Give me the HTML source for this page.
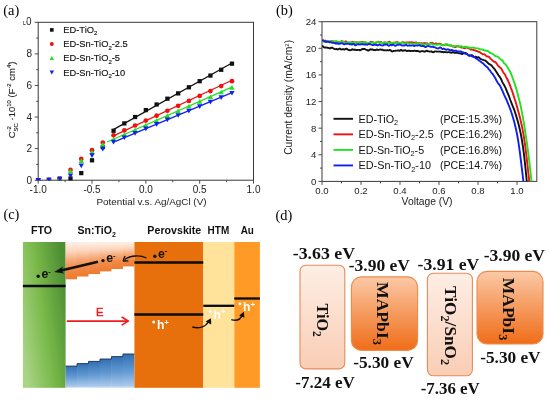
<!DOCTYPE html>
<html lang="en"><head><meta charset="utf-8"><title>Figure</title>
<style>html,body{margin:0;padding:0;background:#fff;}body{width:550px;height:400px;overflow:hidden;}svg{display:block;}</style>
</head><body>
<svg width="550" height="400" viewBox="0 0 550 400">
<defs>
<linearGradient id="gFTO" x1="0" y1="0.75" x2="1" y2="0.25"><stop offset="0" stop-color="#a8d484"/><stop offset="0.5" stop-color="#78b848"/><stop offset="1" stop-color="#4d8d34"/></linearGradient>
<linearGradient id="gTiU" x1="0" y1="0" x2="0" y2="1"><stop offset="0" stop-color="#fff1e8"/><stop offset="0.25" stop-color="#fcd6bd"/><stop offset="0.5" stop-color="#f6a876"/><stop offset="0.72" stop-color="#f18a46"/><stop offset="1" stop-color="#ee7a30"/></linearGradient>
<linearGradient id="gTiL" x1="0" y1="0" x2="0" y2="1"><stop offset="0" stop-color="#3270b4"/><stop offset="0.5" stop-color="#6299d2"/><stop offset="0.93" stop-color="#a8c8ea"/><stop offset="1" stop-color="#d0e1f4"/></linearGradient>
<linearGradient id="gBoxL" x1="0" y1="0" x2="0" y2="1"><stop offset="0" stop-color="#feeee5"/><stop offset="1" stop-color="#f9cdb4"/></linearGradient>
<linearGradient id="gBoxD" x1="0" y1="0" x2="0" y2="1"><stop offset="0" stop-color="#fbc9a6"/><stop offset="0.5" stop-color="#f59a5e"/><stop offset="1" stop-color="#ef6d18"/></linearGradient>
</defs>
<rect width="550" height="400" fill="#fff"/>
<text x="3.3" y="14.5" font-family="Liberation Serif, Times New Roman, serif" font-size="14.4" fill="#000">(a)</text>
<text x="276.0" y="15.2" font-family="Liberation Serif, Times New Roman, serif" font-size="14.4" fill="#000">(b)</text>
<text x="3.4" y="218.8" font-family="Liberation Serif, Times New Roman, serif" font-size="14.4" fill="#000">(c)</text>
<text x="275.4" y="220" font-family="Liberation Serif, Times New Roman, serif" font-size="14.4" fill="#000">(d)</text>
<rect x="38.2" y="22.3" width="215.30" height="157.90" fill="none" stroke="#3a3a3a" stroke-width="1"/>
<line x1="38.20" y1="180.2" x2="38.20" y2="183.7" stroke="#3a3a3a" stroke-width="0.9"/>
<line x1="65.11" y1="180.2" x2="65.11" y2="182.2" stroke="#3a3a3a" stroke-width="0.9"/>
<line x1="92.03" y1="180.2" x2="92.03" y2="183.7" stroke="#3a3a3a" stroke-width="0.9"/>
<line x1="118.94" y1="180.2" x2="118.94" y2="182.2" stroke="#3a3a3a" stroke-width="0.9"/>
<line x1="145.85" y1="180.2" x2="145.85" y2="183.7" stroke="#3a3a3a" stroke-width="0.9"/>
<line x1="172.76" y1="180.2" x2="172.76" y2="182.2" stroke="#3a3a3a" stroke-width="0.9"/>
<line x1="199.68" y1="180.2" x2="199.68" y2="183.7" stroke="#3a3a3a" stroke-width="0.9"/>
<line x1="226.59" y1="180.2" x2="226.59" y2="182.2" stroke="#3a3a3a" stroke-width="0.9"/>
<line x1="253.50" y1="180.2" x2="253.50" y2="183.7" stroke="#3a3a3a" stroke-width="0.9"/>
<line x1="38.2" y1="180.20" x2="34.7" y2="180.20" stroke="#3a3a3a" stroke-width="0.9"/>
<line x1="38.2" y1="164.41" x2="36.2" y2="164.41" stroke="#3a3a3a" stroke-width="0.9"/>
<line x1="38.2" y1="148.62" x2="34.7" y2="148.62" stroke="#3a3a3a" stroke-width="0.9"/>
<line x1="38.2" y1="132.83" x2="36.2" y2="132.83" stroke="#3a3a3a" stroke-width="0.9"/>
<line x1="38.2" y1="117.04" x2="34.7" y2="117.04" stroke="#3a3a3a" stroke-width="0.9"/>
<line x1="38.2" y1="101.25" x2="36.2" y2="101.25" stroke="#3a3a3a" stroke-width="0.9"/>
<line x1="38.2" y1="85.46" x2="34.7" y2="85.46" stroke="#3a3a3a" stroke-width="0.9"/>
<line x1="38.2" y1="69.67" x2="36.2" y2="69.67" stroke="#3a3a3a" stroke-width="0.9"/>
<line x1="38.2" y1="53.88" x2="34.7" y2="53.88" stroke="#3a3a3a" stroke-width="0.9"/>
<line x1="38.2" y1="38.09" x2="36.2" y2="38.09" stroke="#3a3a3a" stroke-width="0.9"/>
<line x1="38.2" y1="22.30" x2="34.7" y2="22.30" stroke="#3a3a3a" stroke-width="0.9"/>
<text x="38.20" y="193.0" text-anchor="middle" font-family="Liberation Sans, Arial, sans-serif" font-size="10" fill="#222">-1.0</text>
<text x="92.03" y="193.0" text-anchor="middle" font-family="Liberation Sans, Arial, sans-serif" font-size="10" fill="#222">-0.5</text>
<text x="145.85" y="193.0" text-anchor="middle" font-family="Liberation Sans, Arial, sans-serif" font-size="10" fill="#222">0.0</text>
<text x="199.68" y="193.0" text-anchor="middle" font-family="Liberation Sans, Arial, sans-serif" font-size="10" fill="#222">0.5</text>
<text x="253.50" y="193.0" text-anchor="middle" font-family="Liberation Sans, Arial, sans-serif" font-size="10" fill="#222">1.0</text>
<text x="32" y="183.70" text-anchor="end" font-family="Liberation Sans, Arial, sans-serif" font-size="10" fill="#222">0</text>
<text x="32" y="152.12" text-anchor="end" font-family="Liberation Sans, Arial, sans-serif" font-size="10" fill="#222">2</text>
<text x="32" y="120.54" text-anchor="end" font-family="Liberation Sans, Arial, sans-serif" font-size="10" fill="#222">4</text>
<text x="32" y="88.96" text-anchor="end" font-family="Liberation Sans, Arial, sans-serif" font-size="10" fill="#222">6</text>
<text x="32" y="57.38" text-anchor="end" font-family="Liberation Sans, Arial, sans-serif" font-size="10" fill="#222">8</text>
<clipPath id="c10"><polygon points="23.4,21 26.6,21 26.6,14 34,14 34,28 23.4,28"/></clipPath><text x="31.6" y="24.90" text-anchor="end" font-family="Liberation Sans, Arial, sans-serif" font-size="10" fill="#222" clip-path="url(#c10)">10</text>
<text x="151.5" y="205.3" text-anchor="middle" font-family="Liberation Sans, Arial, sans-serif" font-size="9.9" fill="#222" textLength="110" lengthAdjust="spacingAndGlyphs">Potential v.s. Ag/AgCl (V)</text>
<text transform="translate(14.9,99.9) rotate(-90)" text-anchor="middle" font-family="Liberation Sans, Arial, sans-serif" font-size="9.45" fill="#222" stroke="#222" stroke-width="0.12">C<tspan dy="-4.4" font-size="6">-2</tspan><tspan dy="7.3" dx="-5.4" font-size="6">SC</tspan><tspan dy="-2.9"> ·10</tspan><tspan dy="-4.4" font-size="6">10</tspan><tspan dy="4.4"> (F</tspan><tspan dy="-4.4" font-size="6">-2</tspan><tspan dy="4.4"> cm</tspan><tspan dy="-4.4" font-size="6">4</tspan><tspan dy="4.4">)</tspan></text>
<line x1="112.48" y1="130.15" x2="231.97" y2="63.04" stroke="#111" stroke-width="1.3"/>
<line x1="112.48" y1="142.62" x2="231.97" y2="92.57" stroke="#1020f0" stroke-width="1.3"/>
<line x1="107.10" y1="141.99" x2="231.97" y2="87.04" stroke="#22e022" stroke-width="1.3"/>
<line x1="112.48" y1="136.30" x2="231.97" y2="80.25" stroke="#f01010" stroke-width="1.3"/>
<clipPath id="ca"><rect x="35.2" y="22.3" width="218.30" height="158.50"/></clipPath>
<g clip-path="url(#ca)">
<rect x="36.07" y="178.07" width="4.26" height="4.26" fill="#111"/>
<rect x="46.84" y="177.76" width="4.26" height="4.26" fill="#111"/>
<rect x="57.60" y="177.28" width="4.26" height="4.26" fill="#111"/>
<rect x="68.37" y="176.34" width="4.26" height="4.26" fill="#111"/>
<rect x="79.13" y="170.97" width="4.26" height="4.26" fill="#111"/>
<rect x="89.90" y="158.18" width="4.26" height="4.26" fill="#111"/>
<rect x="100.66" y="144.91" width="4.26" height="4.26" fill="#111"/>
<rect x="111.43" y="128.65" width="4.26" height="4.26" fill="#111"/>
<rect x="122.19" y="121.29" width="4.26" height="4.26" fill="#111"/>
<rect x="132.96" y="114.87" width="4.26" height="4.26" fill="#111"/>
<rect x="143.72" y="107.98" width="4.26" height="4.26" fill="#111"/>
<rect x="154.49" y="102.35" width="4.26" height="4.26" fill="#111"/>
<rect x="165.25" y="96.57" width="4.26" height="4.26" fill="#111"/>
<rect x="176.02" y="91.26" width="4.26" height="4.26" fill="#111"/>
<rect x="186.78" y="85.16" width="4.26" height="4.26" fill="#111"/>
<rect x="197.55" y="79.05" width="4.26" height="4.26" fill="#111"/>
<rect x="208.31" y="73.43" width="4.26" height="4.26" fill="#111"/>
<rect x="219.08" y="67.64" width="4.26" height="4.26" fill="#111"/>
<rect x="229.84" y="61.54" width="4.26" height="4.26" fill="#111"/>
<circle cx="38.20" cy="180.20" r="2.35" fill="#f01010"/>
<circle cx="48.97" cy="179.73" r="2.35" fill="#f01010"/>
<circle cx="59.73" cy="178.31" r="2.35" fill="#f01010"/>
<circle cx="70.50" cy="169.94" r="2.35" fill="#f01010"/>
<circle cx="81.26" cy="158.88" r="2.35" fill="#f01010"/>
<circle cx="92.03" cy="150.20" r="2.35" fill="#f01010"/>
<circle cx="102.79" cy="142.62" r="2.35" fill="#f01010"/>
<circle cx="113.56" cy="135.36" r="2.35" fill="#f01010"/>
<circle cx="124.32" cy="130.43" r="2.35" fill="#f01010"/>
<circle cx="135.09" cy="125.51" r="2.35" fill="#f01010"/>
<circle cx="145.85" cy="120.59" r="2.35" fill="#f01010"/>
<circle cx="156.62" cy="115.66" r="2.35" fill="#f01010"/>
<circle cx="167.38" cy="110.74" r="2.35" fill="#f01010"/>
<circle cx="178.15" cy="105.81" r="2.35" fill="#f01010"/>
<circle cx="188.91" cy="100.89" r="2.35" fill="#f01010"/>
<circle cx="199.68" cy="95.97" r="2.35" fill="#f01010"/>
<circle cx="210.44" cy="91.04" r="2.35" fill="#f01010"/>
<circle cx="221.20" cy="86.12" r="2.35" fill="#f01010"/>
<circle cx="231.97" cy="81.20" r="2.35" fill="#f01010"/>
<path d="M35.51,182.33 L40.89,182.33 L38.20,177.62 Z" fill="#22e022"/>
<path d="M46.28,181.85 L51.65,181.85 L48.97,177.15 Z" fill="#22e022"/>
<path d="M57.04,180.59 L62.42,180.59 L59.73,175.89 Z" fill="#22e022"/>
<path d="M67.81,173.33 L73.18,173.33 L70.50,168.62 Z" fill="#22e022"/>
<path d="M78.57,163.06 L83.95,163.06 L81.26,158.36 Z" fill="#22e022"/>
<path d="M89.34,154.22 L94.71,154.22 L92.03,149.52 Z" fill="#22e022"/>
<path d="M100.10,146.80 L105.48,146.80 L102.79,142.10 Z" fill="#22e022"/>
<path d="M110.87,141.59 L116.24,141.59 L113.56,136.89 Z" fill="#22e022"/>
<path d="M121.63,136.87 L127.01,136.87 L124.32,132.16 Z" fill="#22e022"/>
<path d="M132.40,132.14 L137.77,132.14 L135.09,127.44 Z" fill="#22e022"/>
<path d="M143.16,127.42 L148.54,127.42 L145.85,122.72 Z" fill="#22e022"/>
<path d="M153.93,122.70 L159.30,122.70 L156.62,118.00 Z" fill="#22e022"/>
<path d="M164.69,117.98 L170.07,117.98 L167.38,113.27 Z" fill="#22e022"/>
<path d="M175.46,113.25 L180.83,113.25 L178.15,108.55 Z" fill="#22e022"/>
<path d="M186.22,108.53 L191.60,108.53 L188.91,103.83 Z" fill="#22e022"/>
<path d="M196.99,103.81 L202.36,103.81 L199.68,99.10 Z" fill="#22e022"/>
<path d="M207.75,99.09 L213.13,99.09 L210.44,94.38 Z" fill="#22e022"/>
<path d="M218.52,94.36 L223.89,94.36 L221.20,89.66 Z" fill="#22e022"/>
<path d="M229.28,89.64 L234.66,89.64 L231.97,84.94 Z" fill="#22e022"/>
<path d="M35.51,178.07 L40.89,178.07 L38.20,182.78 Z" fill="#1020f0"/>
<path d="M46.28,177.76 L51.65,177.76 L48.97,182.46 Z" fill="#1020f0"/>
<path d="M57.04,176.81 L62.42,176.81 L59.73,181.51 Z" fill="#1020f0"/>
<path d="M67.81,173.49 L73.18,173.49 L70.50,178.20 Z" fill="#1020f0"/>
<path d="M78.57,163.55 L83.95,163.55 L81.26,168.25 Z" fill="#1020f0"/>
<path d="M89.34,153.28 L94.71,153.28 L92.03,157.99 Z" fill="#1020f0"/>
<path d="M100.10,146.81 L105.48,146.81 L102.79,151.51 Z" fill="#1020f0"/>
<path d="M110.87,139.86 L116.24,139.86 L113.56,144.56 Z" fill="#1020f0"/>
<path d="M121.63,135.41 L127.01,135.41 L124.32,140.11 Z" fill="#1020f0"/>
<path d="M132.40,130.96 L137.77,130.96 L135.09,135.66 Z" fill="#1020f0"/>
<path d="M143.16,126.51 L148.54,126.51 L145.85,131.21 Z" fill="#1020f0"/>
<path d="M153.93,122.06 L159.30,122.06 L156.62,126.76 Z" fill="#1020f0"/>
<path d="M164.69,117.61 L170.07,117.61 L167.38,122.31 Z" fill="#1020f0"/>
<path d="M175.46,113.16 L180.83,113.16 L178.15,117.86 Z" fill="#1020f0"/>
<path d="M186.22,108.71 L191.60,108.71 L188.91,113.41 Z" fill="#1020f0"/>
<path d="M196.99,104.26 L202.36,104.26 L199.68,108.96 Z" fill="#1020f0"/>
<path d="M207.75,99.81 L213.13,99.81 L210.44,104.52 Z" fill="#1020f0"/>
<path d="M218.52,95.36 L223.89,95.36 L221.20,100.07 Z" fill="#1020f0"/>
<path d="M229.28,90.91 L234.66,90.91 L231.97,95.62 Z" fill="#1020f0"/>
</g>
<rect x="49.99" y="28.09" width="3.61" height="3.61" fill="#111"/>
<text x="63.3" y="33.20" font-family="Liberation Sans, Arial, sans-serif" font-size="9.3" fill="#111" stroke="#111" stroke-width="0.15">ED-TiO<tspan dy="2.2" font-size="6">2</tspan></text>
<circle cx="51.80" cy="44.00" r="1.99" fill="#f01010"/>
<text x="63.3" y="47.30" font-family="Liberation Sans, Arial, sans-serif" font-size="9.3" fill="#111" stroke="#111" stroke-width="0.15">ED-Sn-TiO<tspan dy="2.2" font-size="6">2</tspan><tspan dy="-2.2">-2.5</tspan></text>
<path d="M49.52,59.90 L54.08,59.90 L51.80,55.91 Z" fill="#22e022"/>
<text x="63.3" y="61.40" font-family="Liberation Sans, Arial, sans-serif" font-size="9.3" fill="#111" stroke="#111" stroke-width="0.15">ED-Sn-TiO<tspan dy="2.2" font-size="6">2</tspan><tspan dy="-2.2">-5</tspan></text>
<path d="M49.52,70.39 L54.08,70.39 L51.80,74.38 Z" fill="#1020f0"/>
<text x="63.3" y="75.50" font-family="Liberation Sans, Arial, sans-serif" font-size="9.3" fill="#111" stroke="#111" stroke-width="0.15">ED-Sn-TiO<tspan dy="2.2" font-size="6">2</tspan><tspan dy="-2.2">-10</tspan></text>
<rect x="322.0" y="21.7" width="214.80" height="159.70" fill="none" stroke="#3a3a3a" stroke-width="1"/>
<line x1="322.00" y1="181.4" x2="322.00" y2="184.9" stroke="#3a3a3a" stroke-width="0.9"/>
<line x1="341.50" y1="181.4" x2="341.50" y2="183.4" stroke="#3a3a3a" stroke-width="0.9"/>
<line x1="361.00" y1="181.4" x2="361.00" y2="184.9" stroke="#3a3a3a" stroke-width="0.9"/>
<line x1="380.50" y1="181.4" x2="380.50" y2="183.4" stroke="#3a3a3a" stroke-width="0.9"/>
<line x1="400.00" y1="181.4" x2="400.00" y2="184.9" stroke="#3a3a3a" stroke-width="0.9"/>
<line x1="419.50" y1="181.4" x2="419.50" y2="183.4" stroke="#3a3a3a" stroke-width="0.9"/>
<line x1="439.00" y1="181.4" x2="439.00" y2="184.9" stroke="#3a3a3a" stroke-width="0.9"/>
<line x1="458.50" y1="181.4" x2="458.50" y2="183.4" stroke="#3a3a3a" stroke-width="0.9"/>
<line x1="478.00" y1="181.4" x2="478.00" y2="184.9" stroke="#3a3a3a" stroke-width="0.9"/>
<line x1="497.50" y1="181.4" x2="497.50" y2="183.4" stroke="#3a3a3a" stroke-width="0.9"/>
<line x1="517.00" y1="181.4" x2="517.00" y2="184.9" stroke="#3a3a3a" stroke-width="0.9"/>
<line x1="322.0" y1="181.40" x2="318.5" y2="181.40" stroke="#3a3a3a" stroke-width="0.9"/>
<line x1="322.0" y1="168.09" x2="320.0" y2="168.09" stroke="#3a3a3a" stroke-width="0.9"/>
<line x1="322.0" y1="154.78" x2="318.5" y2="154.78" stroke="#3a3a3a" stroke-width="0.9"/>
<line x1="322.0" y1="141.47" x2="320.0" y2="141.47" stroke="#3a3a3a" stroke-width="0.9"/>
<line x1="322.0" y1="128.17" x2="318.5" y2="128.17" stroke="#3a3a3a" stroke-width="0.9"/>
<line x1="322.0" y1="114.86" x2="320.0" y2="114.86" stroke="#3a3a3a" stroke-width="0.9"/>
<line x1="322.0" y1="101.55" x2="318.5" y2="101.55" stroke="#3a3a3a" stroke-width="0.9"/>
<line x1="322.0" y1="88.24" x2="320.0" y2="88.24" stroke="#3a3a3a" stroke-width="0.9"/>
<line x1="322.0" y1="74.93" x2="318.5" y2="74.93" stroke="#3a3a3a" stroke-width="0.9"/>
<line x1="322.0" y1="61.62" x2="320.0" y2="61.62" stroke="#3a3a3a" stroke-width="0.9"/>
<line x1="322.0" y1="48.32" x2="318.5" y2="48.32" stroke="#3a3a3a" stroke-width="0.9"/>
<line x1="322.0" y1="35.01" x2="320.0" y2="35.01" stroke="#3a3a3a" stroke-width="0.9"/>
<line x1="322.0" y1="21.70" x2="318.5" y2="21.70" stroke="#3a3a3a" stroke-width="0.9"/>
<text x="322.00" y="194.4" text-anchor="middle" font-family="Liberation Sans, Arial, sans-serif" font-size="9.6" fill="#222">0.0</text>
<text x="361.00" y="194.4" text-anchor="middle" font-family="Liberation Sans, Arial, sans-serif" font-size="9.6" fill="#222">0.2</text>
<text x="400.00" y="194.4" text-anchor="middle" font-family="Liberation Sans, Arial, sans-serif" font-size="9.6" fill="#222">0.4</text>
<text x="439.00" y="194.4" text-anchor="middle" font-family="Liberation Sans, Arial, sans-serif" font-size="9.6" fill="#222">0.6</text>
<text x="478.00" y="194.4" text-anchor="middle" font-family="Liberation Sans, Arial, sans-serif" font-size="9.6" fill="#222">0.8</text>
<text x="517.00" y="194.4" text-anchor="middle" font-family="Liberation Sans, Arial, sans-serif" font-size="9.6" fill="#222">1.0</text>
<text x="316.3" y="184.80" text-anchor="end" font-family="Liberation Sans, Arial, sans-serif" font-size="9.6" fill="#222">0</text>
<text x="316.3" y="158.18" text-anchor="end" font-family="Liberation Sans, Arial, sans-serif" font-size="9.6" fill="#222">4</text>
<text x="316.3" y="131.57" text-anchor="end" font-family="Liberation Sans, Arial, sans-serif" font-size="9.6" fill="#222">8</text>
<text x="316.3" y="104.95" text-anchor="end" font-family="Liberation Sans, Arial, sans-serif" font-size="9.6" fill="#222">12</text>
<text x="316.3" y="78.33" text-anchor="end" font-family="Liberation Sans, Arial, sans-serif" font-size="9.6" fill="#222">16</text>
<text x="316.3" y="51.72" text-anchor="end" font-family="Liberation Sans, Arial, sans-serif" font-size="9.6" fill="#222">20</text>
<text x="316.3" y="25.10" text-anchor="end" font-family="Liberation Sans, Arial, sans-serif" font-size="9.6" fill="#222">24</text>
<text x="427.1" y="205" text-anchor="middle" font-family="Liberation Sans, Arial, sans-serif" font-size="10.3" fill="#222">Voltage (V)</text>
<text transform="translate(292.3,97.4) rotate(-90)" text-anchor="middle" font-family="Liberation Sans, Arial, sans-serif" font-size="10.3" fill="#222">Current density (mA/cm<tspan dy="-3.4" font-size="6">2</tspan><tspan dy="3.4">)</tspan></text>
<clipPath id="cb"><rect x="322.0" y="21.7" width="214.80" height="159.70"/></clipPath>
<polyline points="322.00,46.01 322.80,46.30 323.60,47.02 324.39,47.57 325.19,47.56 325.99,47.46 326.79,47.62 327.59,47.80 328.38,47.91 329.18,48.22 329.98,48.34 330.78,47.93 331.58,47.60 332.37,47.72 333.17,48.27 333.97,48.77 334.77,49.13 335.57,49.15 336.36,48.93 337.16,49.25 337.96,49.49 338.76,49.00 339.56,48.57 340.35,48.92 341.15,49.47 341.95,49.39 342.75,49.09 343.55,49.25 344.35,49.49 345.14,49.30 345.94,48.77 346.74,48.76 347.54,49.46 348.34,49.81 349.13,50.03 349.93,50.33 350.73,50.16 351.53,49.66 352.33,49.24 353.12,49.53 353.92,49.84 354.72,49.55 355.52,49.74 356.32,50.15 357.11,50.02 357.91,49.91 358.71,49.87 359.51,50.00 360.31,50.27 361.10,49.84 361.90,49.21 362.70,49.04 363.50,49.01 364.30,48.93 365.09,49.23 365.89,49.68 366.69,49.91 367.49,50.26 368.29,50.51 369.08,50.29 369.88,49.58 370.68,49.30 371.48,49.44 372.28,49.47 373.07,49.80 373.87,49.94 374.67,50.02 375.47,50.18 376.27,49.71 377.06,49.50 377.86,49.90 378.66,49.94 379.46,49.70 380.26,49.50 381.05,49.59 381.85,49.75 382.65,49.81 383.45,50.20 384.25,50.35 385.04,50.20 385.84,50.39 386.64,50.29 387.44,50.17 388.24,50.42 389.04,50.21 389.83,49.96 390.63,50.31 391.43,51.07 392.23,51.54 393.03,51.22 393.82,50.83 394.62,50.83 395.42,50.77 396.22,50.60 397.02,50.64 397.81,50.54 398.61,50.48 399.41,50.76 400.21,50.48 401.01,49.87 401.80,50.23 402.60,50.91 403.40,50.79 404.20,50.34 405.00,50.22 405.79,50.57 406.59,50.99 407.39,50.96 408.19,50.65 408.99,50.69 409.78,50.97 410.58,51.05 411.38,50.92 412.18,50.85 412.98,50.95 413.77,50.78 414.57,50.58 415.37,50.85 416.17,51.00 416.97,50.88 417.76,51.02 418.56,51.19 419.36,51.55 420.16,51.76 420.96,51.33 421.75,51.10 422.55,51.17 423.35,51.28 424.15,51.54 424.95,51.65 425.74,51.20 426.54,50.69 427.34,50.93 428.14,51.36 428.94,51.41 429.73,51.59 430.53,51.57 431.33,51.40 432.13,51.82 432.93,52.29 433.73,52.11 434.52,51.72 435.32,51.42 436.12,51.40 436.92,51.64 437.72,51.58 438.51,51.57 439.31,51.67 440.11,51.55 440.91,51.74 441.71,51.95 442.50,51.95 443.30,52.20 444.10,52.20 444.90,52.01 445.70,52.10 446.49,52.32 447.29,52.35 448.09,52.15 448.89,52.14 449.69,52.43 450.48,52.53 451.28,52.71 452.08,52.53 452.88,51.96 453.68,52.45 454.47,52.91 455.27,52.68 456.07,52.84 456.87,52.76 457.67,52.69 458.46,53.10 459.26,53.35 460.06,53.35 460.86,53.54 461.66,53.94 462.45,53.97 463.25,53.50 464.05,53.15 464.85,53.05 465.65,53.07 466.44,53.56 467.24,54.19 468.04,54.73 468.84,55.28 469.64,55.48 470.43,55.37 471.23,55.18 472.03,55.31 472.83,55.89 473.63,56.50 474.43,56.87 475.22,56.82 476.02,56.77 476.82,57.15 477.62,57.40 478.42,57.19 479.21,57.54 480.01,58.45 480.81,59.09 481.61,59.39 482.41,59.63 483.20,59.95 484.00,60.22 484.80,60.43 485.60,60.73 486.40,61.42 487.19,62.30 487.99,63.03 488.79,63.81 489.59,64.25 490.39,64.56 491.18,65.23 491.98,65.97 492.78,67.03 493.58,67.97 494.38,68.79 495.17,69.98 495.97,71.23 496.77,72.55 497.57,73.85 498.37,75.09 499.16,76.15 499.96,77.19 500.76,78.48 501.56,80.17 502.36,82.11 503.15,83.45 503.95,84.71 504.75,86.34 505.55,87.95 506.35,89.85 507.14,91.94 507.94,93.69 508.74,95.49 509.54,97.75 510.34,99.99 511.13,102.01 511.93,104.06 512.73,106.17 513.53,108.09 514.33,110.06 515.12,112.49 515.92,115.10 516.72,117.67 517.52,120.41 518.32,123.37 519.12,126.50 519.91,129.93 520.71,133.63 521.51,137.77 522.31,142.49 523.11,147.87 523.90,153.98 524.70,160.94 525.50,168.49 526.30,176.43 527.10,184.64 527.89,191.34 528.69,196.33" fill="none" stroke="#111" stroke-width="1.9" stroke-linejoin="round" clip-path="url(#cb)"/>
<polyline points="322.00,40.60 322.81,40.48 323.62,40.64 324.42,40.69 325.23,40.57 326.04,40.81 326.85,41.28 327.65,41.25 328.46,41.38 329.27,41.60 330.08,41.49 330.88,41.43 331.69,41.20 332.50,41.19 333.31,41.45 334.11,41.53 334.92,41.84 335.73,42.30 336.54,42.27 337.34,42.09 338.15,42.00 338.96,41.88 339.77,41.97 340.57,41.92 341.38,41.28 342.19,41.13 343.00,41.80 343.80,42.09 344.61,41.84 345.42,41.42 346.23,41.56 347.04,42.32 347.84,42.69 348.65,42.75 349.46,42.92 350.27,42.80 351.07,42.52 351.88,42.28 352.69,41.81 353.50,41.89 354.30,42.57 355.11,42.80 355.92,42.38 356.73,42.06 357.53,42.54 358.34,42.86 359.15,42.47 359.96,42.29 360.76,42.20 361.57,41.88 362.38,41.93 363.19,42.28 363.99,42.52 364.80,42.50 365.61,42.74 366.42,43.01 367.22,42.88 368.03,42.86 368.84,42.87 369.65,42.52 370.45,41.95 371.26,41.86 372.07,41.94 372.88,42.19 373.69,43.00 374.49,43.33 375.30,42.71 376.11,42.18 376.92,42.14 377.72,42.03 378.53,42.25 379.34,42.69 380.15,42.28 380.95,41.89 381.76,42.62 382.57,43.17 383.38,42.89 384.18,42.56 384.99,42.53 385.80,42.65 386.61,42.90 387.41,42.99 388.22,42.31 389.03,41.67 389.84,42.08 390.64,42.69 391.45,43.06 392.26,43.29 393.07,42.86 393.87,42.62 394.68,42.76 395.49,42.53 396.30,42.27 397.11,42.19 397.91,42.30 398.72,42.72 399.53,43.25 400.34,43.24 401.14,42.81 401.95,42.53 402.76,42.28 403.57,42.24 404.37,42.63 405.18,42.73 405.99,42.57 406.80,42.54 407.60,42.56 408.41,42.48 409.22,42.31 410.03,42.33 410.83,42.34 411.64,42.24 412.45,42.40 413.26,42.76 414.06,42.77 414.87,42.68 415.68,42.50 416.49,42.47 417.29,43.07 418.10,43.45 418.91,43.22 419.72,43.14 420.52,43.33 421.33,43.30 422.14,43.43 422.95,43.52 423.76,43.19 424.56,43.05 425.37,43.27 426.18,43.36 426.99,43.29 427.79,43.71 428.60,44.18 429.41,43.85 430.22,43.27 431.02,42.82 431.83,42.65 432.64,43.08 433.45,43.69 434.25,44.01 435.06,43.83 435.87,43.47 436.68,43.62 437.48,44.11 438.29,44.09 439.10,43.68 439.91,43.61 440.71,44.14 441.52,44.74 442.33,44.95 443.14,45.01 443.94,44.93 444.75,44.59 445.56,44.45 446.37,44.55 447.18,44.82 447.98,45.22 448.79,45.44 449.60,45.59 450.41,45.51 451.21,45.39 452.02,45.98 452.83,46.59 453.64,46.57 454.44,46.71 455.25,47.02 456.06,46.79 456.87,46.17 457.67,46.14 458.48,46.58 459.29,46.56 460.10,46.76 460.90,47.39 461.71,47.54 462.52,47.47 463.33,47.81 464.13,48.27 464.94,48.10 465.75,47.63 466.56,47.45 467.36,47.75 468.17,48.18 468.98,48.23 469.79,48.77 470.59,49.46 471.40,49.53 472.21,49.65 473.02,49.89 473.83,50.01 474.63,50.11 475.44,50.56 476.25,50.95 477.06,51.05 477.86,51.47 478.67,51.83 479.48,51.98 480.29,52.59 481.09,53.24 481.90,53.74 482.71,54.25 483.52,54.16 484.32,54.14 485.13,54.93 485.94,55.71 486.75,56.33 487.55,56.54 488.36,56.46 489.17,57.11 489.98,58.13 490.78,58.88 491.59,59.64 492.40,60.40 493.21,61.08 494.01,61.60 494.82,61.91 495.63,62.42 496.44,63.31 497.25,64.52 498.05,65.63 498.86,66.45 499.67,67.20 500.48,67.86 501.28,68.73 502.09,69.99 502.90,71.64 503.71,73.06 504.51,73.85 505.32,75.19 506.13,77.12 506.94,78.50 507.74,80.01 508.55,81.88 509.36,83.66 510.17,85.93 510.97,88.19 511.78,90.12 512.59,92.48 513.40,94.97 514.20,97.45 515.01,99.98 515.82,102.43 516.63,105.20 517.43,108.13 518.24,111.07 519.05,114.09 519.86,117.32 520.66,120.75 521.47,124.31 522.28,128.17 523.09,132.33 523.90,137.00 524.70,142.32 525.51,148.30 526.32,154.85 527.13,161.93 527.93,169.27 528.74,176.68 529.55,184.12 530.36,190.11 531.16,194.58" fill="none" stroke="#f01010" stroke-width="1.9" stroke-linejoin="round" clip-path="url(#cb)"/>
<polyline points="322.00,41.27 322.82,41.45 323.63,41.49 324.45,41.51 325.27,42.01 326.08,42.10 326.90,41.34 327.71,40.81 328.53,41.27 329.35,41.75 330.16,41.50 330.98,41.23 331.80,41.37 332.61,41.82 333.43,42.03 334.24,41.80 335.06,41.42 335.88,40.97 336.69,41.10 337.51,41.86 338.33,42.18 339.14,42.06 339.96,41.96 340.77,41.79 341.59,41.74 342.41,41.67 343.22,41.62 344.04,42.07 344.86,42.66 345.67,42.88 346.49,42.82 347.30,42.89 348.12,42.79 348.94,42.24 349.75,42.11 350.57,42.45 351.39,42.81 352.20,43.00 353.02,42.51 353.83,42.21 354.65,42.68 355.47,42.51 356.28,42.08 357.10,42.26 357.92,42.34 358.73,42.38 359.55,42.55 360.36,42.22 361.18,42.10 362.00,42.69 362.81,42.87 363.63,42.44 364.45,42.01 365.26,41.89 366.08,42.25 366.89,42.84 367.71,42.99 368.53,42.65 369.34,42.64 370.16,42.91 370.98,42.76 371.79,42.42 372.61,42.49 373.42,42.78 374.24,42.89 375.06,43.09 375.87,43.09 376.69,42.65 377.51,41.87 378.32,41.56 379.14,42.19 379.95,42.52 380.77,42.70 381.59,43.03 382.40,43.06 383.22,42.93 384.04,42.42 384.85,42.20 385.67,42.72 386.48,42.90 387.30,42.58 388.12,42.67 388.93,42.87 389.75,43.11 390.57,43.42 391.38,43.06 392.20,42.68 393.01,42.84 393.83,43.18 394.65,43.31 395.46,43.08 396.28,43.02 397.10,43.25 397.91,43.25 398.73,42.87 399.54,42.69 400.36,42.83 401.18,42.76 401.99,42.54 402.81,42.62 403.63,43.07 404.44,43.46 405.26,43.54 406.07,43.38 406.89,43.12 407.71,43.15 408.52,43.44 409.34,43.67 410.16,43.61 410.97,43.37 411.79,43.44 412.60,43.65 413.42,43.83 414.24,43.95 415.05,43.67 415.87,43.24 416.69,43.39 417.50,43.90 418.32,44.19 419.13,44.06 419.95,43.52 420.77,43.51 421.58,44.23 422.40,44.46 423.22,44.26 424.03,44.47 424.85,44.63 425.66,44.21 426.48,44.13 427.30,44.48 428.11,44.22 428.93,43.76 429.75,43.89 430.56,43.94 431.38,43.64 432.19,44.00 433.01,44.45 433.83,44.47 434.64,44.58 435.46,44.66 436.28,44.74 437.09,44.70 437.91,44.59 438.72,44.39 439.54,44.34 440.36,44.60 441.17,44.66 441.99,44.89 442.81,45.32 443.62,45.14 444.44,44.84 445.25,44.82 446.07,44.34 446.89,44.03 447.70,44.63 448.52,45.12 449.34,45.06 450.15,45.33 450.97,45.70 451.78,45.54 452.60,46.00 453.42,46.72 454.23,46.53 455.05,46.09 455.87,45.95 456.68,45.91 457.50,45.89 458.31,46.09 459.13,46.61 459.95,46.91 460.76,46.43 461.58,46.17 462.40,46.82 463.21,47.47 464.03,47.16 464.85,46.60 465.66,46.93 466.48,47.40 467.29,47.33 468.11,47.19 468.93,47.50 469.74,47.97 470.56,48.11 471.38,47.74 472.19,47.49 473.01,47.64 473.82,47.74 474.64,47.94 475.46,48.19 476.27,48.36 477.09,48.40 477.91,48.36 478.72,48.70 479.54,49.17 480.35,49.32 481.17,49.38 481.99,49.48 482.80,49.65 483.62,50.11 484.44,50.58 485.25,50.40 486.07,50.49 486.88,50.99 487.70,51.01 488.52,51.38 489.33,52.33 490.15,52.85 490.97,52.95 491.78,53.51 492.60,53.98 493.41,54.31 494.23,55.11 495.05,55.86 495.86,56.27 496.68,56.41 497.50,56.63 498.31,57.15 499.13,57.90 499.94,58.69 500.76,59.45 501.58,59.94 502.39,60.30 503.21,61.57 504.03,63.21 504.84,63.80 505.66,64.35 506.47,65.82 507.29,67.10 508.11,68.32 508.92,69.81 509.74,70.95 510.56,72.54 511.37,74.67 512.19,76.69 513.00,79.04 513.82,81.41 514.64,83.58 515.45,86.13 516.27,88.88 517.09,91.75 517.90,94.96 518.72,98.19 519.53,101.34 520.35,104.64 521.17,108.36 521.98,112.59 522.80,117.10 523.62,121.70 524.43,126.61 525.25,131.80 526.06,137.16 526.88,142.82 527.70,148.81 528.51,155.18 529.33,161.96 530.15,169.08 530.96,176.42 531.78,183.93 532.59,190.00 533.41,194.53" fill="none" stroke="#22e022" stroke-width="1.9" stroke-linejoin="round" clip-path="url(#cb)"/>
<polyline points="322.00,40.73 322.79,40.37 323.57,40.73 324.36,41.30 325.14,41.54 325.93,41.70 326.71,41.75 327.50,41.75 328.28,41.81 329.07,42.00 329.85,42.29 330.64,42.25 331.42,42.36 332.21,42.80 332.99,42.81 333.78,42.78 334.56,43.06 335.35,43.49 336.13,43.56 336.92,43.25 337.70,43.54 338.49,43.73 339.27,43.64 340.06,43.74 340.84,43.41 341.63,43.17 342.41,43.37 343.20,43.78 343.98,44.36 344.77,44.26 345.55,43.69 346.34,43.82 347.12,43.85 347.91,43.60 348.69,43.93 349.48,44.18 350.26,44.14 351.05,44.28 351.83,44.50 352.62,44.25 353.40,43.74 354.19,44.21 354.97,45.28 355.76,45.23 356.54,44.48 357.33,44.34 358.11,44.30 358.90,44.37 359.68,44.58 360.47,44.30 361.25,44.14 362.04,44.24 362.82,44.20 363.61,44.26 364.39,44.57 365.18,44.64 365.96,44.41 366.75,44.63 367.53,44.78 368.32,44.25 369.10,43.89 369.89,44.06 370.67,44.42 371.46,44.67 372.24,44.95 373.03,45.10 373.81,44.88 374.60,44.83 375.38,44.71 376.17,44.62 376.95,45.17 377.74,45.44 378.52,45.00 379.31,44.63 380.09,44.83 380.88,45.18 381.66,45.35 382.45,45.49 383.23,45.30 384.02,44.76 384.80,44.49 385.59,44.70 386.37,44.67 387.16,44.50 387.94,45.25 388.73,45.84 389.51,45.42 390.30,44.95 391.08,44.98 391.87,45.19 392.65,44.82 393.44,44.64 394.22,45.23 395.01,45.74 395.79,45.74 396.58,45.22 397.36,44.77 398.15,44.71 398.93,44.63 399.72,44.66 400.50,44.85 401.29,45.10 402.07,45.54 402.86,45.64 403.64,45.48 404.43,45.46 405.21,45.10 406.00,44.82 406.78,45.18 407.57,45.69 408.35,45.57 409.14,45.29 409.92,45.51 410.71,45.65 411.49,45.60 412.28,45.43 413.06,45.34 413.85,45.83 414.63,45.94 415.42,45.43 416.20,45.33 416.99,45.52 417.77,45.59 418.56,45.43 419.34,45.20 420.13,45.40 420.91,45.94 421.70,46.15 422.48,46.03 423.27,45.98 424.05,46.16 424.84,46.80 425.62,47.13 426.41,46.57 427.19,46.15 427.98,46.08 428.76,46.00 429.55,46.36 430.33,46.73 431.12,46.76 431.90,46.77 432.69,46.78 433.47,46.95 434.26,47.17 435.04,47.34 435.83,47.77 436.61,48.13 437.40,48.36 438.18,48.53 438.97,48.09 439.75,47.49 440.54,47.47 441.32,48.10 442.11,48.93 442.89,48.96 443.68,48.67 444.46,48.93 445.25,49.36 446.03,49.77 446.82,49.60 447.60,49.24 448.39,49.43 449.17,49.86 449.96,50.31 450.74,50.31 451.53,49.99 452.31,50.11 453.10,50.48 453.88,50.78 454.67,50.93 455.45,50.64 456.24,50.74 457.02,51.35 457.81,51.42 458.59,51.43 459.38,51.58 460.16,51.30 460.95,51.53 461.73,52.18 462.52,52.20 463.30,52.48 464.09,53.22 464.87,53.48 465.66,53.72 466.44,54.00 467.23,54.21 468.01,54.87 468.80,55.64 469.58,55.91 470.37,55.73 471.15,55.77 471.94,56.24 472.72,56.72 473.51,56.88 474.29,56.97 475.08,57.60 475.86,58.46 476.65,58.75 477.43,58.98 478.22,59.77 479.00,60.45 479.79,61.02 480.57,61.55 481.36,62.18 482.14,62.88 482.93,63.18 483.71,63.99 484.50,64.97 485.28,65.66 486.07,66.45 486.85,66.89 487.64,67.58 488.42,68.81 489.21,69.73 489.99,70.58 490.78,71.78 491.56,72.83 492.35,73.60 493.13,74.63 493.92,76.06 494.70,77.21 495.49,78.51 496.27,80.19 497.06,81.54 497.85,82.93 498.63,84.02 499.42,84.78 500.20,86.07 500.99,87.68 501.77,89.40 502.56,91.16 503.34,92.98 504.13,94.80 504.91,96.49 505.70,98.09 506.48,99.77 507.27,101.66 508.05,103.54 508.84,105.42 509.62,107.48 510.41,109.59 511.19,111.76 511.98,114.20 512.76,116.81 513.55,119.49 514.33,122.36 515.12,125.50 515.90,128.89 516.69,132.50 517.47,136.51 518.26,141.11 519.04,146.30 519.83,152.00 520.61,158.18 521.40,164.64 522.18,171.16 522.97,177.67 523.75,184.20 524.54,189.43 525.32,193.34" fill="none" stroke="#1020f0" stroke-width="1.9" stroke-linejoin="round" clip-path="url(#cb)"/>
<line x1="333.5" y1="118.80" x2="353" y2="118.80" stroke="#111" stroke-width="1.9"/>
<text x="358.5" y="122.50" font-family="Liberation Sans, Arial, sans-serif" font-size="10.6" fill="#111" textLength="39.7" lengthAdjust="spacingAndGlyphs">ED-TiO<tspan dy="2.4" font-size="7.2">2</tspan></text>
<text x="440" y="122.50" font-family="Liberation Sans, Arial, sans-serif" font-size="10.6" fill="#111" textLength="62" lengthAdjust="spacingAndGlyphs">(PCE:15.3%)</text>
<line x1="333.5" y1="134.35" x2="353" y2="134.35" stroke="#f01010" stroke-width="1.9"/>
<text x="358.5" y="138.05" font-family="Liberation Sans, Arial, sans-serif" font-size="10.6" fill="#111" textLength="75.3" lengthAdjust="spacingAndGlyphs">ED-Sn-TiO<tspan dy="2.4" font-size="7.2">2</tspan><tspan dy="-2.4">-2.5</tspan></text>
<text x="440" y="138.05" font-family="Liberation Sans, Arial, sans-serif" font-size="10.6" fill="#111" textLength="62" lengthAdjust="spacingAndGlyphs">(PCE:16.2%)</text>
<line x1="333.5" y1="149.90" x2="353" y2="149.90" stroke="#22e022" stroke-width="1.9"/>
<text x="358.5" y="153.60" font-family="Liberation Sans, Arial, sans-serif" font-size="10.6" fill="#111" textLength="65.6" lengthAdjust="spacingAndGlyphs">ED-Sn-TiO<tspan dy="2.4" font-size="7.2">2</tspan><tspan dy="-2.4">-5</tspan></text>
<text x="440" y="153.60" font-family="Liberation Sans, Arial, sans-serif" font-size="10.6" fill="#111" textLength="62" lengthAdjust="spacingAndGlyphs">(PCE:16.8%)</text>
<line x1="333.5" y1="165.45" x2="353" y2="165.45" stroke="#1020f0" stroke-width="1.9"/>
<text x="358.5" y="169.15" font-family="Liberation Sans, Arial, sans-serif" font-size="10.6" fill="#111" textLength="72.5" lengthAdjust="spacingAndGlyphs">ED-Sn-TiO<tspan dy="2.4" font-size="7.2">2</tspan><tspan dy="-2.4">-10</tspan></text>
<text x="440" y="169.15" font-family="Liberation Sans, Arial, sans-serif" font-size="10.6" fill="#111" textLength="62" lengthAdjust="spacingAndGlyphs">(PCE:14.7%)</text>
<rect x="22.9" y="242.0" width="42.7" height="145.80" fill="url(#gFTO)"/>
<rect x="65.60" y="242.0" width="11.47" height="37.30" fill="url(#gTiU)"/>
<rect x="76.67" y="242.0" width="11.87" height="34.50" fill="url(#gTiU)"/>
<rect x="88.13" y="242.0" width="11.87" height="32.00" fill="url(#gTiU)"/>
<rect x="99.60" y="242.0" width="11.87" height="29.40" fill="url(#gTiU)"/>
<rect x="111.07" y="242.0" width="11.87" height="27.00" fill="url(#gTiU)"/>
<rect x="122.53" y="242.0" width="11.87" height="24.40" fill="url(#gTiU)"/>
<rect x="65.60" y="366.1" width="11.87" height="21.70" fill="url(#gTiL)"/>
<rect x="77.07" y="363.6" width="11.87" height="24.20" fill="url(#gTiL)"/>
<rect x="88.53" y="361.4" width="11.87" height="26.40" fill="url(#gTiL)"/>
<rect x="100.00" y="359.0" width="11.87" height="28.80" fill="url(#gTiL)"/>
<rect x="111.47" y="356.6" width="11.87" height="31.20" fill="url(#gTiL)"/>
<rect x="122.93" y="354.0" width="11.47" height="33.80" fill="url(#gTiL)"/>
<polyline points="65.60,366.10 77.07,366.10 77.07,363.60 88.53,363.60 88.53,361.40 100.00,361.40 100.00,359.00 111.47,359.00 111.47,356.60 122.93,356.60 122.93,354.00 134.40,354.00" fill="none" stroke="#16304f" stroke-width="0.9"/>
<rect x="134.4" y="242.0" width="68.9" height="145.80" fill="#e8700c"/>
<rect x="203.3" y="242.0" width="31" height="145.80" fill="#ffe39a"/>
<rect x="234.3" y="242.0" width="25.6" height="145.80" fill="#ff9a26"/>
<line x1="22.9" y1="286" x2="65.6" y2="286" stroke="#0a0a0a" stroke-width="2.3"/>
<line x1="134.4" y1="262.5" x2="203.3" y2="262.5" stroke="#0a0a0a" stroke-width="2.3"/>
<line x1="134.4" y1="314.5" x2="203.3" y2="314.5" stroke="#0a0a0a" stroke-width="2.3"/>
<line x1="203.3" y1="305.8" x2="234.3" y2="305.8" stroke="#0a0a0a" stroke-width="2.3"/>
<line x1="234.3" y1="298.5" x2="259.9" y2="298.5" stroke="#0a0a0a" stroke-width="2.3"/>
<text x="31.05" y="234.4" font-family="Liberation Sans, Arial, sans-serif" font-weight="bold" font-size="10.6" fill="#111" textLength="21.1" lengthAdjust="spacingAndGlyphs">FTO</text>
<text x="77.60" y="234.4" font-family="Liberation Sans, Arial, sans-serif" font-weight="bold" font-size="10.6" fill="#111" textLength="38.2" lengthAdjust="spacingAndGlyphs">Sn:TiO<tspan dy="2.2" font-size="7">2</tspan></text>
<text x="147.35" y="234.4" font-family="Liberation Sans, Arial, sans-serif" font-weight="bold" font-size="10.6" fill="#111" textLength="53.9" lengthAdjust="spacingAndGlyphs">Perovskite</text>
<text x="207.60" y="234.4" font-family="Liberation Sans, Arial, sans-serif" font-weight="bold" font-size="10.6" fill="#111" textLength="21.6" lengthAdjust="spacingAndGlyphs">HTM</text>
<text x="240.70" y="233.6" font-family="Liberation Sans, Arial, sans-serif" font-weight="bold" font-size="10.6" fill="#111" textLength="13.2" lengthAdjust="spacingAndGlyphs">Au</text>
<circle cx="38.2" cy="276.3" r="1.7" fill="#111"/>
<text x="41.400000000000006" y="277.90000000000003" font-family="Liberation Sans, Arial, sans-serif" font-weight="bold" font-size="12.3" fill="#111">e<tspan dy="-4.4" font-size="7.5">-</tspan></text>
<circle cx="103" cy="260.6" r="1.7" fill="#111"/>
<text x="106.2" y="262.20000000000005" font-family="Liberation Sans, Arial, sans-serif" font-weight="bold" font-size="12.3" fill="#111">e<tspan dy="-4.4" font-size="7.5">-</tspan></text>
<circle cx="154.8" cy="256.2" r="1.7" fill="#111"/>
<text x="158.0" y="257.8" font-family="Liberation Sans, Arial, sans-serif" font-weight="bold" font-size="12.3" fill="#111">e<tspan dy="-4.4" font-size="7.5">-</tspan></text>
<circle cx="153.7" cy="322.09999999999997" r="1.5" fill="#fff"/>
<text x="156.89999999999998" y="329.3" font-family="Liberation Sans, Arial, sans-serif" font-weight="bold" font-size="12" fill="#fff">h<tspan dy="-4.4" font-size="8">+</tspan></text>
<circle cx="210.2" cy="311.5" r="1.5" fill="#fff"/>
<text x="213.39999999999998" y="318.70000000000005" font-family="Liberation Sans, Arial, sans-serif" font-weight="bold" font-size="12" fill="#fff">h<tspan dy="-4.4" font-size="8">+</tspan></text>
<circle cx="239.9" cy="303.79999999999995" r="1.5" fill="#fff"/>
<text x="243.1" y="311.0" font-family="Liberation Sans, Arial, sans-serif" font-weight="bold" font-size="12" fill="#fff">h<tspan dy="-4.4" font-size="8">+</tspan></text>
<line x1="98" y1="261.8" x2="60" y2="270.7" stroke="#111" stroke-width="2.6"/>
<path d="M54.2,272 L63,266.6 L61.6,270.2 L64,273.6 Z" fill="#111"/>
<path d="M146.5,258 C141,255.3 131,254.8 124.6,259.6" fill="none" stroke="#111" stroke-width="1.3"/>
<path d="M123,261 L125,256 M123,261 L128.4,260.8" fill="none" stroke="#111" stroke-width="1.3"/>
<path d="M192.3,327 C199,329 205.5,327 208.3,322" fill="none" stroke="#111" stroke-width="1.4"/>
<path d="M211,318.2 L211.2,324.4 L205.6,321.6 Z" fill="#111"/>
<path d="M231.3,319.6 C236,321.2 240,319.8 241.8,315.6" fill="none" stroke="#111" stroke-width="1.4"/>
<path d="M243.9,311.8 L244.4,317.8 L239.2,315.4 Z" fill="#111"/>
<line x1="66.8" y1="321.1" x2="127" y2="321.1" stroke="#ee1c1c" stroke-width="1.7"/>
<path d="M122.2,317.3 L128.2,321.1 L122.2,324.9" fill="none" stroke="#ee1c1c" stroke-width="1.7" stroke-linecap="round" stroke-linejoin="miter"/>
<text x="99.8" y="315.6" text-anchor="middle" font-family="Liberation Sans, Arial, sans-serif" font-size="11.2" fill="#ee1c1c" stroke="#ee1c1c" stroke-width="0.45">E</text>
<rect x="300.0" y="265.2" width="44.80" height="103.70" rx="6" ry="6" fill="url(#gBoxL)" stroke="#e38c5c" stroke-width="1.1"/>
<rect x="351.4" y="276.9" width="66.20" height="73.50" rx="10" ry="10" fill="url(#gBoxD)" stroke="#ee8a4a" stroke-width="1.1"/>
<rect x="427.4" y="273.2" width="45.00" height="102.60" rx="6" ry="6" fill="url(#gBoxL)" stroke="#e38c5c" stroke-width="1.1"/>
<rect x="477.0" y="271.4" width="66.00" height="72.60" rx="10" ry="10" fill="url(#gBoxD)" stroke="#ee8a4a" stroke-width="1.1"/>
<text x="292.8" y="258.5" font-family="Liberation Serif, Times New Roman, serif" font-weight="bold" font-size="17" fill="#111" textLength="62.2" lengthAdjust="spacingAndGlyphs">-3.63 eV</text>
<text x="348.8" y="271.0" font-family="Liberation Serif, Times New Roman, serif" font-weight="bold" font-size="17" fill="#111" textLength="61.2" lengthAdjust="spacingAndGlyphs">-3.90 eV</text>
<text x="353.2" y="368.0" font-family="Liberation Serif, Times New Roman, serif" font-weight="bold" font-size="17" fill="#111" textLength="60.5" lengthAdjust="spacingAndGlyphs">-5.30 eV</text>
<text x="295.3" y="387.7" font-family="Liberation Serif, Times New Roman, serif" font-weight="bold" font-size="17" fill="#111" textLength="59.5" lengthAdjust="spacingAndGlyphs">-7.24 eV</text>
<text x="417.6" y="269.5" font-family="Liberation Serif, Times New Roman, serif" font-weight="bold" font-size="17" fill="#111" textLength="61.6" lengthAdjust="spacingAndGlyphs">-3.91 eV</text>
<text x="483.8" y="261" font-family="Liberation Serif, Times New Roman, serif" font-weight="bold" font-size="17" fill="#111" textLength="61.2" lengthAdjust="spacingAndGlyphs">-3.90 eV</text>
<text x="480.2" y="363.3" font-family="Liberation Serif, Times New Roman, serif" font-weight="bold" font-size="17" fill="#111" textLength="60.4" lengthAdjust="spacingAndGlyphs">-5.30 eV</text>
<text x="420.7" y="393.9" font-family="Liberation Serif, Times New Roman, serif" font-weight="bold" font-size="17" fill="#111" textLength="59.1" lengthAdjust="spacingAndGlyphs">-7.36 eV</text>
<text transform="translate(317.0,303.4) rotate(90)" font-family="Liberation Serif, Times New Roman, serif" font-weight="bold" font-size="17" fill="#111" textLength="33.3" lengthAdjust="spacingAndGlyphs">TiO<tspan dy="3.8" font-size="12">2</tspan></text>
<text transform="translate(376.6,282.0) rotate(90)" font-family="Liberation Serif, Times New Roman, serif" font-weight="bold" font-size="17" fill="#111" textLength="63" lengthAdjust="spacingAndGlyphs">MAPbI<tspan dy="3.8" font-size="12">3</tspan></text>
<text transform="translate(444.9,286.1) rotate(90)" font-family="Liberation Serif, Times New Roman, serif" font-weight="bold" font-size="17" fill="#111" textLength="79" lengthAdjust="spacingAndGlyphs">TiO<tspan dy="3.8" font-size="12">2</tspan><tspan dy="-3.8">/SnO</tspan><tspan dy="3.8" font-size="12">2</tspan></text>
<text transform="translate(502.9,277.8) rotate(90)" font-family="Liberation Serif, Times New Roman, serif" font-weight="bold" font-size="17" fill="#111" textLength="62.5" lengthAdjust="spacingAndGlyphs">MAPbI<tspan dy="3.8" font-size="12">3</tspan></text>
</svg>
</body></html>
